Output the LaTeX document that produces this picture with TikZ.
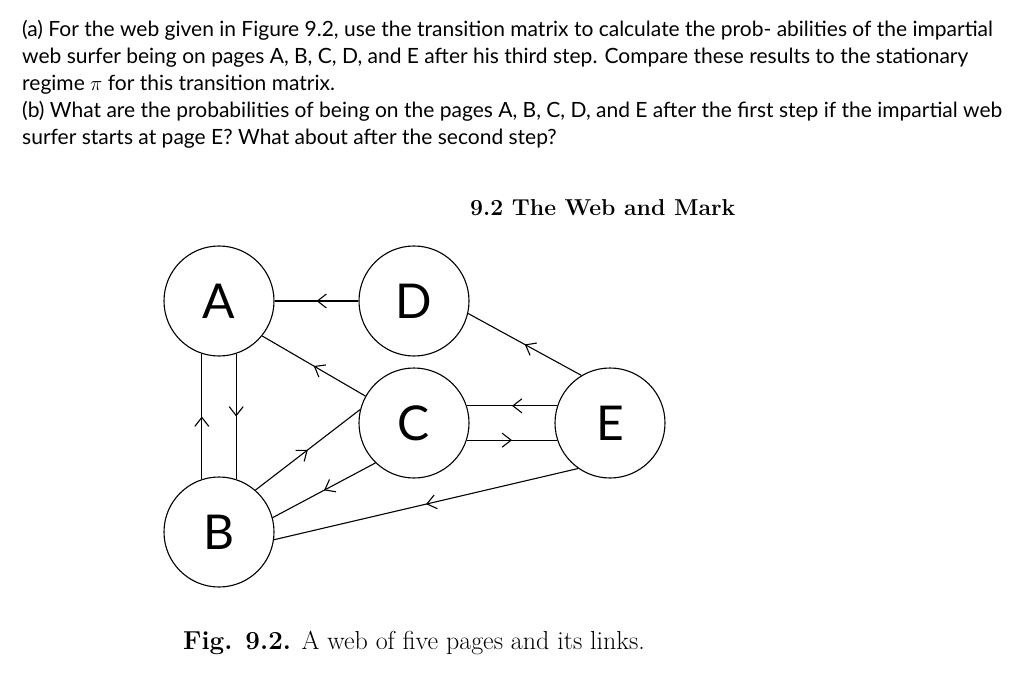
\documentclass[tikz,border=0pt]{standalone}
\usepackage{fontspec}
\setmainfont{Latin Modern Roman}
\newfontfamily\lato{Lato}
\usetikzlibrary{decorations.markings, arrows.meta}
\tikzset{
  page/.style={circle, draw, line width=1.1pt, minimum size=110pt, inner sep=0pt,
    font=\lato\fontsize{48}{48}\selectfont},
  link/.style={line width=1.1pt, postaction={decorate, decoration={markings,
    mark=at position 0.5 with {\arrow{Straight Barb[length=9pt,width=14pt,line width=1.1pt]}}}}}
}
\begin{document}
\begin{tikzpicture}[x=1pt,y=-1pt]
  \useasboundingbox (0,0) rectangle (1024,684);
  % exercise text
  \node (task) [anchor=north west, inner sep=0pt, align=left,
    font=\lato\fontsize{21}{27}\selectfont] at (22,20)
    {(a) For the web given in Figure 9.2, use the transition matrix to calculate the prob- abilities of the impartial\\
     web surfer being on pages A, B, C, D, and E after his third step. Compare these results to the stationary\\
     regime $\pi$ for this transition matrix.\\
     (b) What are the probabilities of being on the pages A, B, C, D, and E after the first step if the impartial web\\
     surfer starts at page E? What about after the second step?};
  \node (head) [anchor=west, inner sep=0pt, font=\bfseries\fontsize{23}{26}\selectfont] at (470,208)
    {9.2 The Web and Mark};
  % pages
  \node (A) [page] at (219,301) {A};
  \node (D) [page] at (414,301) {D};
  \node (C) [page] at (414,423) {C};
  \node (E) [page] at (610,423) {E};
  \node (B) [page] at (219,532) {B};
  % links
  \draw [link] (D.west) -- (A.east);
  \draw [link] (C.151) -- (A.-39);
  \draw [link] (E.121) -- (D.-13);
  \draw [link] (A.-72) -- (B.72);
  \draw [link] (B.108) -- (A.-108);
  \draw [link] (E.162) -- (C.18);
  \draw [link] (C.-18) -- (E.-162);
  \draw [link] (B.49) -- (C.166);
  \draw [link] (C.226) -- (B.15);
  \draw [link] (E.235) -- (B.-8);
  % caption
  \node (cap) [anchor=west, inner sep=0pt, font=\fontsize{26}{30}\selectfont] at (183,643)
    {\textbf{Fig. 9.2.} A web of five pages and its links.};
\end{tikzpicture}
\end{document}
